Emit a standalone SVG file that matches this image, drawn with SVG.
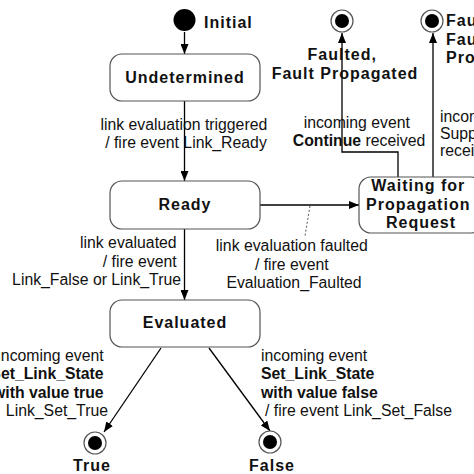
<svg xmlns="http://www.w3.org/2000/svg" width="474" height="474" viewBox="0 0 474 474">
<defs>
<marker id="ah" markerWidth="10" markerHeight="8" refX="10" refY="4" orient="auto" markerUnits="userSpaceOnUse">
<path d="M0,0 L10,4 L0,8 z" fill="#000"/>
</marker>
<style>
.state{fill:#fff;stroke:#555;stroke-width:1.2}
.name{font-family:"Liberation Sans",Arial,sans-serif;font-weight:bold;font-size:16px;letter-spacing:1px;fill:#111}
.lbl{font-family:"Liberation Sans",Arial,sans-serif;font-size:15.8px;fill:#111}
.b{font-weight:bold}
.conn{fill:none;stroke:#000;stroke-width:1.3}
.fin-o{fill:#fff;stroke:#555;stroke-width:1.2}
.fin-i{fill:#000}
</style>
</defs>
<rect width="474" height="474" fill="#fff"/>

<g id="connectors">
<path class="conn" d="M184.5,32 L184.5,54" marker-end="url(#ah)"/>
<path class="conn" d="M184.5,101 L184.5,181" marker-end="url(#ah)"/>
<path class="conn" d="M184.5,229 L184.5,300" marker-end="url(#ah)"/>
<path class="conn" d="M260,205 L359,205" marker-end="url(#ah)"/>
<path class="conn" d="M398,177 L398,152 L342,152 L342,33" marker-end="url(#ah)"/>
<path class="conn" d="M433,177 L433,33" marker-end="url(#ah)"/>
<path class="conn" d="M161,348 L104,432" marker-end="url(#ah)"/>
<path class="conn" d="M209,348 L270,431" marker-end="url(#ah)"/>
<path d="M310,206 L305,236" stroke="#555" stroke-width="1" stroke-dasharray="2,2" fill="none"/>
</g>

<g id="initial">
<circle cx="184.5" cy="20" r="11" fill="#000"/>
<text class="name" x="204" y="28">Initial</text>
</g>

<g id="undetermined">
<rect class="state" x="110" y="54" width="150" height="47" rx="12"/>
<text class="name" x="185" y="83" text-anchor="middle">Undetermined</text>
</g>

<g id="ready">
<rect class="state" x="110" y="181" width="150" height="48" rx="12"/>
<text class="name" x="185" y="210" text-anchor="middle">Ready</text>
</g>

<g id="evaluated">
<rect class="state" x="110" y="300" width="150" height="47" rx="12"/>
<text class="name" x="185" y="328" text-anchor="middle">Evaluated</text>
</g>

<g id="waiting">
<rect class="state" x="359" y="177" width="124" height="56" rx="12"/>
<text class="name" text-anchor="middle">
<tspan x="421" y="191">Waiting for</tspan>
<tspan x="421" y="210">Propagation</tspan>
<tspan x="421" y="228">Request</tspan>
</text>
</g>

<g id="final-fault-propagated">
<circle class="fin-o" cx="342" cy="21" r="11"/>
<circle class="fin-i" cx="342" cy="21" r="7"/>
<text class="name" text-anchor="middle">
<tspan x="345" y="60">Faulted,</tspan>
<tspan x="345" y="79">Fault Propagated</tspan>
</text>
</g>

<g id="final-fault-not-propagated">
<circle class="fin-o" cx="432" cy="21" r="11"/>
<circle class="fin-i" cx="432" cy="21" r="7"/>
<text class="name">
<tspan x="446" y="26">Faulted,</tspan>
<tspan x="446" y="45">Fault Not</tspan>
<tspan x="446" y="63">Propagated</tspan>
</text>
</g>

<g id="final-true">
<circle class="fin-o" cx="95" cy="443" r="11"/>
<circle class="fin-i" cx="95" cy="443" r="7"/>
<text class="name" x="92" y="471" text-anchor="middle">True</text>
</g>

<g id="final-false">
<circle class="fin-o" cx="270" cy="442" r="11"/>
<circle class="fin-i" cx="270" cy="442" r="7"/>
<text class="name" x="272" y="471" text-anchor="middle">False</text>
</g>

<g id="labels">
<text class="lbl" text-anchor="middle">
<tspan x="186" y="130">link evaluation triggered</tspan>
<tspan x="186" y="148">/ fire event Link_Ready</tspan>
</text>
<text class="lbl" text-anchor="end">
<tspan x="181" y="248">link evaluated</tspan>
<tspan x="181" y="267">/ fire event</tspan>
<tspan x="181" y="285">Link_False or Link_True</tspan>
</text>
<text class="lbl" text-anchor="middle">
<tspan x="294" y="251">link evaluation faulted</tspan>
<tspan x="294" y="270">/ fire event</tspan>
<tspan x="294" y="288">Evaluation_Faulted</tspan>
</text>
<text class="lbl" text-anchor="middle">
<tspan x="359" y="128">incoming event</tspan>
<tspan x="359" y="146"><tspan class="b">Continue</tspan> received</tspan>
</text>
<text class="lbl">
<tspan x="440" y="122">incoming event</tspan>
<tspan x="440" y="139">Suppress</tspan>
<tspan x="440" y="156">received</tspan>
</text>
<text class="lbl" text-anchor="end">
<tspan x="108" y="361">incoming event</tspan>
<tspan x="108" y="379" class="b">Set_Link_State</tspan>
<tspan x="108" y="398" class="b">with value true</tspan>
<tspan x="108" y="416">/ fire event<tspan dx="6"> Link_Set_True</tspan></tspan>
</text>
<text class="lbl">
<tspan x="261" y="361">incoming event</tspan>
<tspan x="261" y="379" class="b">Set_Link_State</tspan>
<tspan x="261" y="398" class="b">with value false</tspan>
<tspan x="265" y="416">/ fire event Link_Set_False</tspan>
</text>
</g>
</svg>
